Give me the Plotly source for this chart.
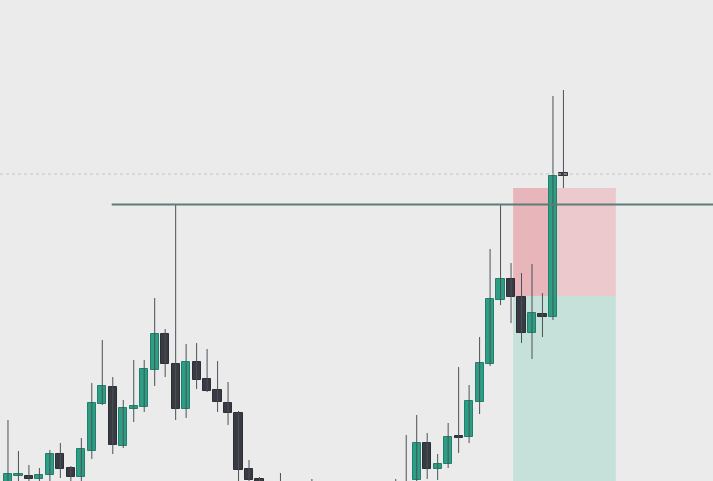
import plotly.graph_objects as go

# bar index (time slots)
idx = list(range(54))

opens = [99.1, 100.5, 100.5, 100.2, 100.6, 102.7, 101.3, 100.4, 103.0, 107.7,
         109.4, 103.5, 107.2, 107.4, 111.1, 114.7, 111.7, 107.2, 111.9, 110.2,
         109.1, 107.8, 106.8, 101.2, 100.2, 98.0, 97.5, 99.0, 98.2, 97.6,
         98.8, 98.0, 97.2, 96.5, 97.4, 96.8, 97.9, 98.0, 99.2, 100.1,
         103.8, 101.2, 101.7, 104.5, 104.4, 107.9, 111.7, 118.1, 120.2, 118.4,
         114.8, 116.7, 116.4, 130.8]
highs = [106.1, 103.0, 101.6, 101.3, 103.1, 103.8, 101.5, 104.3, 109.8, 114.1,
         110.4, 108.1, 112.1, 112.1, 118.3, 115.2, 127.6, 113.7, 113.8, 113.2,
         112.0, 109.9, 107.0, 102.1, 100.4, 99.5, 100.8, 99.6, 99.0, 100.2,
         99.5, 98.9, 98.3, 98.5, 98.6, 99.2, 99.6, 100.2, 104.6, 106.6,
         104.8, 102.7, 105.8, 111.4, 109.6, 114.4, 123.2, 127.7, 121.8, 120.8,
         121.7, 118.8, 138.5, 139.1]
lows = [98.5, 99.7, 99.6, 99.5, 99.8, 100.3, 99.7, 99.9, 102.2, 107.6,
        102.7, 103.3, 105.9, 106.9, 109.5, 110.4, 106.1, 106.3, 109.2, 108.9,
        106.9, 105.6, 99.6, 98.9, 97.5, 96.0, 96.8, 97.0, 96.5, 97.0,
        96.8, 96.0, 95.5, 95.8, 95.9, 96.0, 97.0, 97.2, 98.5, 99.0,
        100.2, 100.1, 101.3, 102.8, 103.8, 106.7, 111.5, 117.6, 115.8, 113.8,
        112.2, 114.4, 116.1, 129.3]
closes = [100.7, 100.7, 100.2, 100.6, 102.7, 101.2, 100.4, 103.2, 107.8, 109.5,
          103.6, 107.3, 107.5, 111.2, 114.7, 111.7, 107.2, 111.9, 110.1, 109.0,
          107.9, 106.8, 101.1, 100.1, 98.8, 97.0, 99.0, 98.2, 97.6, 98.8,
          98.0, 97.2, 96.5, 97.4, 96.8, 97.9, 98.5, 99.2, 99.8, 103.8,
          101.2, 101.7, 104.4, 104.3, 108.0, 111.8, 118.2, 120.2, 118.4, 114.8,
          116.8, 116.4, 130.5, 130.5]

# annotation levels
resistance_level = 127.65
resistance_start = 9.9
dotted_level = 130.7
pos_left, pos_split, pos_right = 48.2, 51.7, 58.0
stop_level, entry_level, target_level = 129.3, 118.5, 90.0

UP = "#2b9e84"
UP_LINE = "#237f6b"
DOWN = "#383b42"
BG = "#ebebeb"

# wicks
wx, wy = [], []
for i, h, l in zip(idx, highs, lows):
    wx += [i, i, None]
    wy += [l, h, None]

base = [min(o, c) for o, c in zip(opens, closes)]
height = [max(abs(c - o), 0.25) for o, c in zip(opens, closes)]
colors = [UP if c > o else DOWN for o, c in zip(opens, closes)]
lcolors = [UP_LINE if c > o else "#2c2f35" for o, c in zip(opens, closes)]

fig = go.Figure()
fig.add_trace(go.Scatter(x=wx, y=wy, mode="lines",
                         line=dict(color="#4c5158", width=1),
                         hoverinfo="skip", showlegend=False))
fig.add_trace(go.Bar(x=idx, y=height, base=base, width=0.78,
                     marker=dict(color=colors, line=dict(color=lcolors, width=1)),
                     showlegend=False))

# position tool boxes
fig.add_shape(type="rect", xref="x", yref="y", x0=pos_left, x1=pos_split,
              y0=entry_level, y1=stop_level, fillcolor="#e8b5ba",
              line=dict(width=0), layer="below")
fig.add_shape(type="rect", xref="x", yref="y", x0=pos_split, x1=pos_right,
              y0=entry_level, y1=stop_level, fillcolor="#ecc9cd",
              line=dict(width=0), layer="below")
fig.add_shape(type="rect", xref="x", yref="y", x0=pos_left, x1=pos_right,
              y0=target_level, y1=entry_level, fillcolor="#c6e0da",
              line=dict(width=0), layer="below")

# dotted level across the chart
fig.add_shape(type="line", xref="paper", yref="y", x0=0, x1=1,
              y0=dotted_level, y1=dotted_level,
              line=dict(color="#c4c4c4", width=1, dash="dot"))
# resistance line
fig.add_shape(type="line", xref="x", yref="y", x0=resistance_start, x1=80,
              y0=resistance_level, y1=resistance_level,
              line=dict(color="#5f7d78", width=2))

fig.update_layout(
    width=713, height=481,
    margin=dict(l=0, r=0, t=0, b=0),
    paper_bgcolor=BG, plot_bgcolor=BG,
    xaxis=dict(visible=False, range=[-0.76, 67.27], fixedrange=True),
    yaxis=dict(visible=False, range=[100.0, 148.1], fixedrange=True),
    bargap=0, showlegend=False,
)

fig.write_html(
    "out.html",
    config={"displayModeBar": False},
    post_script="document.body.style.margin='0';document.body.style.overflow='hidden';document.body.style.background='#ebebeb';",
)
